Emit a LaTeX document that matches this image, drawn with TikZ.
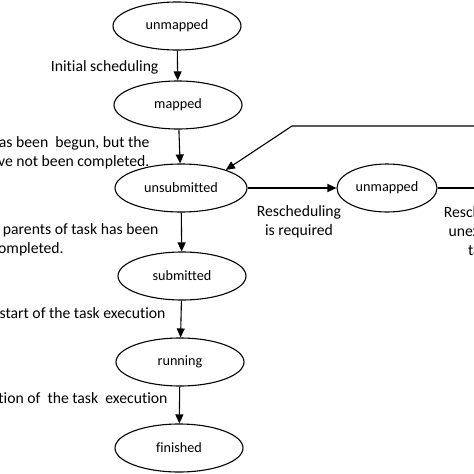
\documentclass[tikz,border=0pt]{standalone}
\usepackage{fontspec}
\setmainfont{Carlito}[Ligatures={NoCommon}]
\usetikzlibrary{shapes.geometric,arrows.meta}

\begin{document}
\begin{tikzpicture}[x=1pt, y=-1pt, line width=1.1pt,
  state/.style={ellipse, draw, minimum width=128pt, minimum height=48pt,
    font=\fontsize{14.2}{17}\selectfont},
  lbl/.style={inner sep=0pt, font=\fontsize{15.7}{19}\selectfont},
  go/.style={-{Triangle[length=9pt,width=8pt]}}]

  \useasboundingbox (0,0) rectangle (474,474);
  \clip (0,0) rectangle (474,474);
  \fill[white] (0,0) rectangle (474,474);

  % life cycle of a task
  \node[state] (unmapped) at (177,26) {unmapped};
  \node[state] (mapped) at (178,105) {mapped};
  \node[state, minimum width=132pt] (unsubmitted) at (181,188) {unsubmitted};
  \node[state] (submitted) at (182,276) {submitted};
  \node[state] (running) at (180,362) {running};
  \node[state] (finished) at (179,448) {finished};

  % rescheduling branch
  \node[state, minimum width=100pt] (remapped) at (387,188) {unmapped};
  \coordinate (out) at (480,188);
  \coordinate (back) at (480,126);
  \coordinate (bend) at (292,126);

  \draw[go] (unmapped) -- (mapped);
  \draw[go] (mapped) -- (unsubmitted);
  \draw[go] (unsubmitted) -- (submitted);
  \draw[go] (submitted) -- (running);
  \draw[go] (running) -- (finished);
  \draw[go] (unsubmitted) -- (remapped);
  \draw (remapped) -- (out);
  \draw[go] (back) -- (bend) -- (unsubmitted.22);

  % labels
  \node[lbl, anchor=east] (initlbl) at (159,67) {Initial scheduling};
  \node[lbl, anchor=east, align=right] (beginlbl) at (150,153)
    {The workflow execution has been~ begun, but the\\parents of the task have not been completed.};
  \node[lbl, anchor=east, align=center] (parentlbl) at (159,240)
    {Submit when all parents of task has been\\completed.};
  \node[lbl, anchor=east] (startlbl) at (166,313) {The start of the task execution};
  \node[lbl, anchor=east] (donelbl) at (168,399) {Completion of~ the task~ execution};
  \node[lbl, align=center] (reqlbl) at (299,222) {Rescheduling\\is required};
  \node[lbl, align=center] (unexlbl) at (486,231) {Rescheduling\\unexpected\\tasks.};

\end{tikzpicture}
\end{document}
